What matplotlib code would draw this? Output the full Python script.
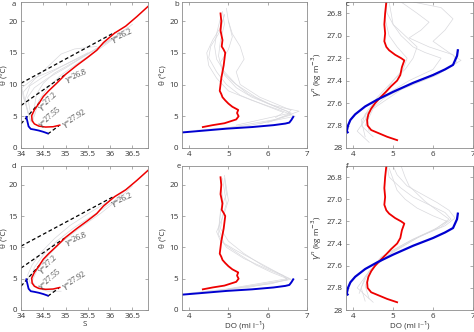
import matplotlib
matplotlib.use("Agg")
import matplotlib.pyplot as plt

# ---- données ----
# T-S : profil rouge / bleu
s_red = [36.85, 36.6, 36.35, 36.1, 35.85, 35.7, 35.5, 35.25, 35.0, 34.8, 34.62, 34.5, 34.4,
         34.3, 34.24, 34.25, 34.3, 34.4, 34.55, 34.72, 34.87]
th_red = [22.3, 20.7, 19.2, 18.1, 16.6, 15.4, 14.3, 13.0, 11.6, 10.2, 9.0, 8.1, 7.0,
          6.0, 5.1, 4.3, 3.8, 3.45, 3.3, 3.35, 3.6]
s_blue = [34.12, 34.14, 34.17, 34.22, 34.3, 34.4, 34.5, 34.6]
th_blue = [4.9, 4.3, 3.4, 3.0, 2.9, 2.75, 2.55, 2.3]

# DO en fonction de theta
do_red_th = [4.8, 4.82, 4.8, 4.85, 4.83, 4.88, 4.92, 4.9, 4.88, 4.85, 4.82, 4.8, 4.78, 4.82,
             4.85, 4.92, 5.0, 5.1, 5.25, 5.22, 5.26, 5.2, 5.05, 4.9, 4.6, 4.35]
th_red_do = [21.2, 20, 18.5, 17, 16, 15.5, 15, 14, 13, 12, 11, 10, 9, 8.5,
             8, 7.5, 7, 6.5, 6, 5.5, 5, 4.5, 4.2, 3.9, 3.6, 3.3]
do_blue_th = [3.82, 4.3, 4.96, 5.6, 6.15, 6.45, 6.55, 6.6, 6.65]
th_blue_do = [2.45, 2.7, 3.05, 3.3, 3.6, 3.85, 4.0, 4.4, 4.9]

# DO en fonction de gamma_n
do_red_g = [4.83, 4.8, 4.78, 4.8, 4.78, 4.83, 4.9, 5.05, 5.2, 5.28, 5.22, 5.18, 5.1, 4.95,
            4.82, 4.68, 4.55, 4.45, 4.38, 4.35, 4.36, 4.45, 4.65, 4.85, 5.1]
g_red = [26.7, 26.8, 26.9, 26.98, 27.05, 27.1, 27.13, 27.17, 27.2, 27.22, 27.28, 27.35, 27.4, 27.45,
         27.5, 27.55, 27.6, 27.65, 27.7, 27.75, 27.8, 27.84, 27.87, 27.9, 27.93]
do_blue_g = [6.62, 6.6, 6.5, 6.3, 6.0, 5.5, 5.0, 4.6, 4.3, 4.05, 3.93, 3.87, 3.84, 3.86]
g_blue = [27.13, 27.18, 27.26, 27.3, 27.35, 27.42, 27.5, 27.57, 27.63, 27.7, 27.75, 27.8, 27.85, 27.86]

# isopycnes (segments tiretés) et étiquettes
iso_s = [[34.0, 36.1], [34.0, 34.98], [34.0, 34.42], [34.6, 34.85]]
iso_th = [[10.2, 18.2], [6.7, 11.5], [3.8, 7.2], [2.2, 3.5]]
iso_lab = ["γ=26.2", "γ=26.8", "γ=27.2", "γ=27.55", "γ=27.92"]
iso_lab_s = [36.02, 35.0, 34.42, 34.41, 34.94]
iso_lab_th = [16.9, 10.6, 6.1, 3.5, 3.5]
iso_lab_rot = [24, 22, 42, 40, 32]

# profils gris, rangée du haut
gray_a = [
    ([34.22, 34.15, 34.05, 34.02, 34.3, 34.8, 35.4, 35.9, 36.3], [4.2, 6, 8, 9.5, 11, 12.5, 14.5, 16.5, 18.5]),
    ([34.25, 34.2, 34.15, 34.3, 34.6, 35.0, 35.5, 36.0, 36.4], [4.0, 6.0, 8.0, 9.5, 11, 12.6, 14.8, 17.0, 19.0]),
    ([34.28, 34.3, 34.35, 34.5, 34.75, 35.1, 35.6, 36.1], [4.2, 6.5, 8.5, 10.2, 11.8, 13.2, 15.2, 17.6]),
    ([34.2, 34.1, 34.05, 34.3, 34.6, 34.9, 35.2, 35.7], [4.5, 7.0, 8.8, 10.8, 12.8, 14.8, 15.6, 16.0]),
    ([34.3, 34.4, 34.6, 34.9, 35.3, 35.8, 36.2, 36.5], [5.0, 7.5, 9.5, 11.5, 13.5, 15.8, 17.8, 19.5]),
    ([34.15, 34.1, 34.2, 34.5, 34.95, 35.5], [5.5, 7.8, 9.8, 11.2, 13, 15]),
]
gray_b = [
    ([4.9, 4.8, 4.6, 4.45, 4.5, 4.7, 5.0, 5.6, 6.3, 6.7, 5.5, 4.2], [21, 19, 17, 15, 13, 11, 9, 7.5, 6, 5, 3.5, 2.8]),
    ([4.95, 5.0, 5.1, 5.3, 5.4, 5.2, 5.3, 5.8, 6.5, 6.8, 6.0], [22, 20, 18, 16, 14, 12, 10, 8, 6.2, 5.8, 4.0]),
    ([4.8, 4.7, 4.65, 4.7, 4.9, 5.2, 5.7, 6.2, 6.6, 6.2, 5.0], [20.5, 18, 16, 14, 12, 10, 8, 6.5, 5.5, 4.5, 3.2]),
    ([4.85, 4.9, 4.8, 4.75, 4.85, 5.1, 5.5, 6.0, 6.5, 6.6, 5.8], [21.5, 19.5, 17, 14.5, 12, 10.5, 8.5, 7, 5.8, 5.2, 3.8]),
    ([4.9, 4.8, 4.55, 4.5, 4.7, 4.95, 5.3, 5.9, 6.4, 6.2], [21, 18.5, 16, 14.2, 12, 10, 8.3, 6.8, 5.6, 4.8]),
    ([5.0, 5.1, 5.0, 4.8, 4.9, 5.2, 5.6, 6.1, 6.6, 6.5, 5.2], [20, 17.5, 15.5, 13.5, 11.5, 9.5, 8, 6.8, 6, 5.4, 3.6]),
]
gray_c = [
    ([4.9, 4.95, 5.0, 5.3, 5.6, 5.5, 5.3, 5.0, 4.6, 4.3, 4.2, 4.5],
     [26.7, 26.8, 26.9, 27.0, 27.1, 27.2, 27.3, 27.4, 27.55, 27.7, 27.8, 27.9]),
    ([5.5, 6.2, 6.5, 6.3, 6.0, 6.4, 6.7, 6.3, 5.5, 4.8, 4.3, 4.4],
     [26.7, 26.75, 26.85, 26.95, 27.05, 27.15, 27.22, 27.3, 27.42, 27.55, 27.7, 27.85]),
    ([4.8, 4.85, 5.0, 5.2, 5.5, 5.8, 6.2, 6.0, 5.4, 4.7, 4.2, 4.3],
     [26.7, 26.8, 26.9, 27.0, 27.1, 27.15, 27.2, 27.3, 27.4, 27.55, 27.75, 27.9]),
    ([4.85, 4.8, 4.9, 5.1, 5.35, 5.25, 5.0, 4.8, 4.5, 4.3, 4.1, 4.4],
     [26.7, 26.85, 27.0, 27.1, 27.2, 27.3, 27.4, 27.5, 27.6, 27.75, 27.85, 27.95]),
    ([5.2, 5.6, 5.9, 5.7, 5.4, 5.9, 6.5, 6.6, 6.1, 5.2, 4.5, 4.3],
     [26.7, 26.8, 26.88, 26.95, 27.02, 27.1, 27.17, 27.24, 27.35, 27.48, 27.65, 27.8]),
]
# profils gris, rangée du bas
gray_d = [
    ([34.8, 34.5, 34.3, 34.22, 34.3, 34.5, 34.8, 35.2, 35.7, 36.1, 36.4], [3.2, 3.2, 3.8, 5, 6.8, 8.8, 11, 13.2, 15.5, 17.5, 19.5]),
    ([34.9, 34.6, 34.35, 34.25, 34.35, 34.55, 34.85, 35.3, 35.8, 36.2, 36.5], [3.0, 3.0, 3.5, 4.6, 6.2, 8.2, 10.5, 13, 15.5, 17.8, 19.8]),
    ([34.6, 34.35, 34.2, 34.15, 34.25, 34.45, 34.75, 35.1, 35.6, 36.0], [3.3, 3.6, 4.4, 5.6, 7.2, 9.2, 11.4, 13.5, 15.8, 17.5]),
]
gray_e = [
    ([4.85, 4.9, 4.95, 4.85, 4.8, 5.0, 5.4, 5.9, 6.4, 6.5, 5.2, 4.0], [21, 19, 17, 15, 13, 11, 9, 7, 5.5, 4.8, 3.5, 2.7]),
    ([4.9, 4.95, 5.0, 4.9, 4.7, 4.8, 5.2, 5.8, 6.3, 6.6, 5.5, 4.3], [21.5, 19.5, 17.5, 15.5, 12.5, 11, 9.5, 7.5, 5.8, 4.9, 3.6, 2.9]),
    ([4.8, 4.85, 4.8, 4.75, 4.9, 5.3, 5.7, 6.1, 6.5, 5.0], [20.5, 18, 15.5, 13, 10.5, 8.8, 7.2, 6, 5, 3.4]),
    ([4.9, 4.95, 4.8, 4.75, 4.95, 5.4, 6.0, 6.55, 6.1, 4.8], [21, 18.5, 16, 12, 10, 8.2, 6.5, 5.0, 4.2, 3.2]),
]
gray_f = [
    ([4.85, 4.9, 5.2, 5.5, 5.9, 6.3, 6.45, 6.2, 5.6, 4.9, 4.4, 4.2, 4.3],
     [26.7, 26.8, 26.9, 26.98, 27.05, 27.12, 27.18, 27.25, 27.35, 27.5, 27.65, 27.8, 27.92]),
    ([5.0, 5.1, 5.35, 5.7, 6.1, 6.4, 6.55, 6.3, 5.7, 5.0, 4.5, 4.3, 4.4],
     [26.7, 26.78, 26.88, 26.95, 27.03, 27.1, 27.17, 27.24, 27.33, 27.47, 27.62, 27.78, 27.9]),
    ([4.9, 5.0, 5.1, 5.3, 5.6, 6.0, 6.35, 6.0, 5.4, 4.7, 4.3, 4.15],
     [26.72, 26.82, 26.92, 27.0, 27.08, 27.15, 27.2, 27.28, 27.38, 27.52, 27.7, 27.85]),
    ([5.2, 5.3, 5.4, 5.6, 5.8, 6.1, 6.4, 6.1, 5.5, 4.8, 4.4, 4.1, 4.5],
     [26.7, 26.8, 26.88, 26.95, 27.02, 27.1, 27.18, 27.26, 27.36, 27.5, 27.65, 27.8, 27.93]),
]

RED = "#ee0000"
BLUE = "#0000d0"
GRAY = "#d9d9dd"
TXT = "#333333"

plt.rcParams['font.family'] = ['Open Sans', 'DejaVu Sans']
plt.rcParams['font.size'] = 6

fig = plt.figure(figsize=(4.74, 3.32), dpi=100)

W, H = 474.0, 332.0
cols = [(21, 148), (182, 307), (346, 473)]
rows = [(2, 148), (166, 310)]


def make_ax(c, r):
    x0, x1 = cols[c]
    y0, y1 = rows[r]
    ax = fig.add_axes([x0 / W, 1 - y1 / H, (x1 - x0) / W, (y1 - y0) / H])
    for sp in ax.spines.values():
        sp.set_color("#8c8c8c")
        sp.set_linewidth(0.6)
    ax.tick_params(direction='in', length=2.5, width=0.5, colors="#8c8c8c",
                   labelcolor=TXT, labelsize=5.8, top=True, right=True, pad=2.5)
    ax.tick_params(axis='x', pad=2)
    return ax


def panel_ts(ax, grays):
    for s, t in grays:
        ax.plot(s, t, color=GRAY, lw=0.5)
    for s, t in zip(iso_s, iso_th):
        ax.plot(s, t, color="black", lw=0.9, dashes=(3, 2))
    ax.plot(s_red, th_red, color=RED, lw=1.1)
    ax.plot(s_blue, th_blue, color=BLUE, lw=1.3)
    for lab, s, t, rot in zip(iso_lab, iso_lab_s, iso_lab_th, iso_lab_rot):
        ax.text(s, t, lab, rotation=rot, fontsize=5.8, color="#444444",
                family=['Liberation Serif', 'DejaVu Serif'], ha='left', va='center',
                rotation_mode='anchor')
    ax.set_xlim(34, 36.85)
    ax.set_ylim(0, 23)
    ax.set_xticks([34, 34.5, 35, 35.5, 36, 36.5])
    ax.set_xticklabels(["34", "34.5", "35", "35.5", "36", "36.5"])
    ax.set_yticks([0, 5, 10, 15, 20])
    ax.set_ylabel("θ (ºC)", color=TXT, fontsize=5.8)
    ax.yaxis.set_label_coords(-0.105, 0.5)


def panel_dt(ax, grays):
    for d, t in grays:
        ax.plot(d, t, color=GRAY, lw=0.5)
    ax.plot(do_red_th, th_red_do, color=RED, lw=1.3)
    ax.plot(do_blue_th, th_blue_do, color=BLUE, lw=1.4)
    ax.set_xlim(3.82, 7)
    ax.set_ylim(0, 23)
    ax.set_xticks([4, 5, 6, 7])
    ax.set_yticks([0, 5, 10, 15, 20])
    ax.set_ylabel("θ (ºC)", color=TXT, fontsize=5.8)
    ax.yaxis.set_label_coords(-0.12, 0.5)


def panel_dg(ax, grays):
    for d, g in grays:
        ax.plot(d, g, color=GRAY, lw=0.5)
    ax.plot(do_red_g, g_red, color=RED, lw=1.3)
    ax.plot(do_blue_g, g_blue, color=BLUE, lw=1.6)
    ax.set_xlim(3.82, 7)
    ax.set_ylim(28, 26.7)
    ax.set_xticks([4, 5, 6, 7])
    ax.set_yticks([26.8, 27.0, 27.2, 27.4, 27.6, 27.8, 28])
    ax.set_yticklabels(["26.8", "27.0", "27.2", "27.4", "27.6", "27.8", "28"])
    ax.set_ylabel(r"$\gamma^n$ (kg m$^{-3}$)", color=TXT, fontsize=5.8)
    ax.yaxis.set_label_coords(-0.175, 0.5)


ax_a = make_ax(0, 0); panel_ts(ax_a, gray_a)
ax_b = make_ax(1, 0); panel_dt(ax_b, gray_b)
ax_c = make_ax(2, 0); panel_dg(ax_c, gray_c)
ax_d = make_ax(0, 1); panel_ts(ax_d, gray_d)
ax_e = make_ax(1, 1); panel_dt(ax_e, gray_e)
ax_f = make_ax(2, 1); panel_dg(ax_f, gray_f)

for ax, xl in [(ax_d, "S"), (ax_e, "DO (ml l⁻¹)"), (ax_f, "DO (ml l⁻¹)")]:
    ax.set_xlabel(xl, color=TXT, fontsize=5.8)
    ax.xaxis.set_label_coords(0.5, -0.078)
    ax.xaxis.label.set_va('top')

# lettres des panneaux
for lab, px, py in [("a", 14, 5), ("b", 177, 5), ("c", 347, 5),
                    ("d", 14, 167), ("e", 179, 167), ("f", 347, 167)]:
    fig.text(px / W, 1 - py / H, lab, fontsize=5.5, color=TXT, ha='center', va='center')

plt.savefig("out.png", dpi=100)
